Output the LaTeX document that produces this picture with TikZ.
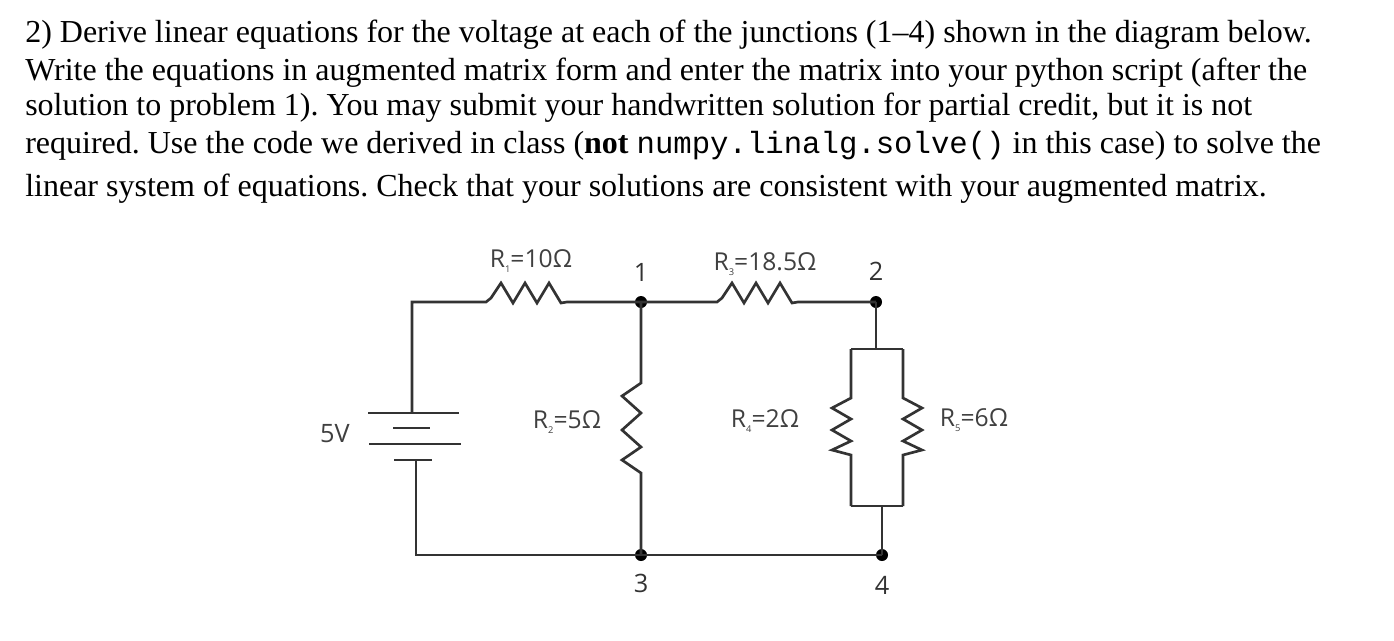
\documentclass[tikz,border=0pt]{standalone}
\usepackage{fontspec}
\setmainfont{Liberation Serif}
\setmonofont{Liberation Mono}
\newfontfamily\circfont{Open Sans}
\frenchspacing
\begin{document}
\begin{tikzpicture}[x=0.75pt,y=-0.75pt,
  line/.style={anchor=base west,font=\fontsize{24}{27}\selectfont,inner sep=0pt},
  wire/.style={draw=black!80,line width=2pt,line join=miter},
  lbl/.style={font=\circfont\fontsize{18.5}{20}\selectfont,text=black!75,inner sep=0pt},
  num/.style={font=\circfont\fontsize{19}{21}\selectfont,text=black!80,inner sep=0pt},
  dot/.style={circle,fill=black,inner sep=0pt,minimum size=9pt}]
\useasboundingbox (0,0) rectangle (1394,640);
\node[line] (l1) at (25,42) {2) Derive linear equations for the voltage at each of the junctions (1--4) shown in the diagram below.};
\node[line] (l2) at (25,80) {Write the equations in augmented matrix form and enter the matrix into your python script (after the};
\node[line] (l3) at (25,115) {solution to problem 1). You may submit your handwritten solution for partial credit, but it is not};
\node[line] (l4) at (25,153) {required. Use the code we derived in class (\textbf{not} \texttt{\fontsize{23}{27}\selectfont numpy.linalg.solve()} in this case) to solve the};
\node[line] (l5) at (25,196) {linear system of equations. Check that your solutions are consistent with your augmented matrix.};
% nodes
\node[dot] (n1) at (641,302) {};
\node[dot] (n2) at (876,302) {};
\node[dot] (n3) at (641,555) {};
\node[dot] (n4) at (882,555) {};
% top wire with R1, R3
\draw[wire] (412,413) -- (412,302) -- (486,302) -- ++(5,-4)
  -- ++(10,-15) -- ++(12,20) -- ++(12,-20) -- ++(12,20) -- ++(12,-20) -- ++(12,20) -- ++(6,-1) -- (571,302) -- (n1.center);
\draw[wire] (n1.center) -- (717,302) -- ++(5,-4)
  -- ++(10,-15) -- ++(12,20) -- ++(12,-20) -- ++(12,20) -- ++(12,-20) -- ++(12,20) -- ++(6,-1) -- (803,302) -- (n2.center);
% battery
\draw[wire] (368,413) -- (459,413);
\draw[wire] (393,428) -- (430,428);
\draw[wire] (369,444) -- (461,444);
\draw[wire] (394,460) -- (432,460);
\draw[wire] (416,460) -- (416,555) -- (n3.center) -- (n4.center);
% R2
\draw[wire] (n1.center) -- (641,383) -- (622,396) -- (641,413) -- (622,430) -- (641,447) -- (622,460) -- (641,473) -- (n3.center);
% parallel R4 R5
\draw[wire] (n2.center) -- (876,349);
\draw[wire] (851,349) -- (903,349);
\draw[wire] (851,349) -- (851,398) -- (832,408) -- (851,419) -- (832,430) -- (851,441) -- (832,450) -- (851,455) -- (851,506);
\draw[wire] (903,349) -- (903,398) -- (922,408) -- (903,419) -- (922,430) -- (903,441) -- (922,450) -- (903,455) -- (903,506);
\draw[wire] (851,506) -- (903,506);
\draw[wire] (882,506) -- (n4.center);
% labels
\node[lbl] (t1) at (531,261) {R\raisebox{-0.35ex}{\scriptsize 1}=10Ω};
\node[lbl] (t3) at (765,264) {R\raisebox{-0.35ex}{\scriptsize 3}=18.5Ω};
\node[lbl] (t2) at (567,422) {R\raisebox{-0.35ex}{\scriptsize 2}=5Ω};
\node[lbl] (t4) at (765,421) {R\raisebox{-0.35ex}{\scriptsize 4}=2Ω};
\node[lbl] (t5) at (974,420) {R\raisebox{-0.35ex}{\scriptsize 5}=6Ω};
\node[lbl,font=\circfont\fontsize{19}{21}\selectfont] (tv) at (335,434) {5V};
\node[num] (k1) at (641,272) {1};
\node[num] (k2) at (876,271) {2};
\node[num] (k3) at (641,583) {3};
\node[num] (k4) at (882,585) {4};
\end{tikzpicture}
\end{document}
